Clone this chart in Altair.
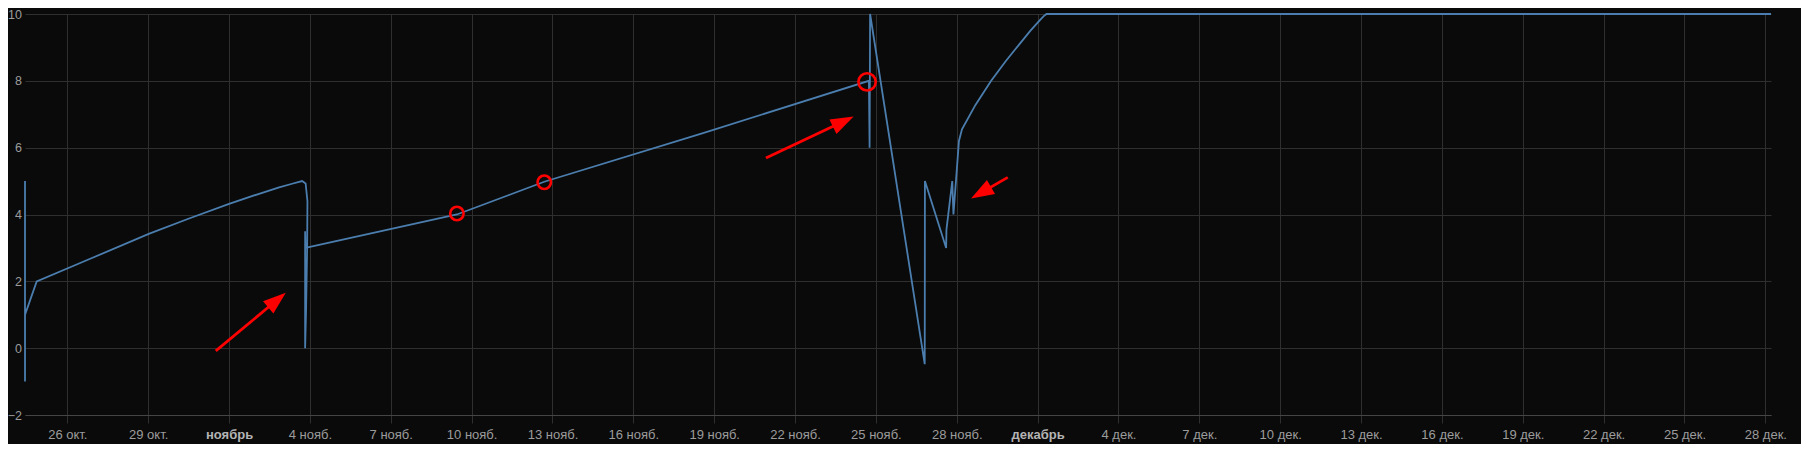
import altair as alt
import pandas as pd

# ---- main series (time, value), in drawing order ----
times = [
    "2023-10-24T10:19", "2023-10-24T10:20", "2023-10-24T10:21", "2023-10-24T20:44",
    "2023-10-26T19:20", "2023-10-29T00:31", "2023-10-30T12:25", "2023-11-01T00:03",
    "2023-11-02T02:47", "2023-11-02T20:35", "2023-11-03T08:11", "2023-11-03T17:05",
    "2023-11-03T20:12", "2023-11-03T21:49", "2023-11-03T21:33", "2023-11-03T20:38",
    "2023-11-03T19:45", "2023-11-03T19:46", "2023-11-03T20:01",
    "2023-11-09T10:54", "2023-11-12T16:41", "2023-11-18T15:29", "2023-11-24T17:46",
    "2023-11-24T18:23", "2023-11-24T18:50", "2023-11-26T19:28", "2023-11-26T19:39",
    "2023-11-27T14:33", "2023-11-27T14:49", "2023-11-27T19:59", "2023-11-27T21:03",
    "2023-11-28T01:57", "2023-11-28T04:38", "2023-11-28T16:39", "2023-11-29T06:37",
    "2023-11-29T19:22", "2023-11-30T07:51", "2023-11-30T17:38", "2023-12-01T01:39",
    "2023-12-01T05:12", "2023-12-01T07:54", "2023-12-28T05:02",
]
values = [
    5, -1, 1, 2,
    2.66, 3.42, 3.88, 4.32,
    4.62, 4.81, 4.92, 5.0,
    4.93, 4.4, 3.0, 1.2,
    0, 3.5, 3.0,
    4.0, 4.98, 6.45, 8.0,
    6.0, 10, -0.48, 5.0,
    3.0, 3.55, 5.0, 4.0,
    6.2, 6.55, 7.28, 8.0,
    8.58, 9.1, 9.5, 9.8,
    9.93, 10, 10,
]

# ---- axis ticks ----
tick_dates = [
    "2023-10-26", "2023-10-29", "2023-11-01", "2023-11-04", "2023-11-07", "2023-11-10",
    "2023-11-13", "2023-11-16", "2023-11-19", "2023-11-22", "2023-11-25", "2023-11-28",
    "2023-12-01", "2023-12-04", "2023-12-07", "2023-12-10", "2023-12-13", "2023-12-16",
    "2023-12-19", "2023-12-22", "2023-12-25", "2023-12-28",
]
tick_labels = [
    "26 окт.", "29 окт.", "ноябрь", "4 нояб.", "7 нояб.", "10 нояб.",
    "13 нояб.", "16 нояб.", "19 нояб.", "22 нояб.", "25 нояб.", "28 нояб.",
    "декабрь", "4 дек.", "7 дек.", "10 дек.", "13 дек.", "16 дек.",
    "19 дек.", "22 дек.", "25 дек.", "28 дек.",
]
y_ticks = [-2, 0, 2, 4, 6, 8, 10]

# ---- annotations (red circles and arrows) ----
circle_times = ["2023-11-09T10:54", "2023-11-12T16:41", "2023-11-24T16:09"]
circle_values = [4.03, 4.965, 7.97]
circle_sizes = [180, 180, 300]

arrow_tail_times = ["2023-10-31T12:13", "2023-11-20T22:05", "2023-11-29T21:26"]
arrow_tail_values = [-0.08, 5.69, 5.11]
arrow_head_times = ["2023-11-02T18:43", "2023-11-23T18:58", "2023-11-28T21:36"]
arrow_head_values = [1.44, 6.78, 4.65]
arrow_angles = [50, 64, 240]

series = pd.DataFrame({"t": times, "v": values, "i": list(range(len(times)))})
circles = pd.DataFrame({"t": circle_times, "v": circle_values, "s": circle_sizes})
arrows = pd.DataFrame({
    "t": arrow_tail_times, "v": arrow_tail_values,
    "t2": arrow_head_times, "v2": arrow_head_values, "a": arrow_angles,
})

def to_dt(s):
    y, m, d = (int(p) for p in s.split("-"))
    return alt.DateTime(year=y, month=m, date=d)

labels_js = "[" + ",".join("'" + l + "'" for l in tick_labels) + "]"
dates_js = "[" + ",".join("'" + d + "'" for d in tick_dates) + "]"
label_expr = f"{labels_js}[indexof({dates_js}, timeFormat(datum.value, '%Y-%m-%d'))]"

GRID = "#2f2f2f"
x_axis = alt.Axis(
    values=[to_dt(d) for d in tick_dates],
    labelExpr=label_expr,
    title=None,
    grid=True,
    gridColor=GRID,
    tickColor=GRID,
    tickSize=8,
    domainColor="#454545",
    labelPadding=5,
    labelAngle=0,
    labelFlush=False,
    labelOverlap=False,
    labelFont="Liberation Sans",
    labelFontSize=13,
    labelColor={"condition": {"test": "date(datum.value) == 1", "value": "#b4b4b4"}, "value": "#9c9c9c"},
    labelFontWeight={"condition": {"test": "date(datum.value) == 1", "value": "bold"}, "value": "normal"},
)
y_axis = alt.Axis(
    values=y_ticks,
    title=None,
    grid=True,
    gridColor=GRID,
    ticks=False,
    domain=False,
    labelPadding=3.5,
    labelFont="Liberation Sans",
    labelFontSize=12.5,
    labelColor="#9c9c9c",
)

x_scale = alt.Scale(nice=False)
y_scale = alt.Scale(domain=[-2, 10], nice=False, zero=False)

line = alt.Chart(series).mark_line(color="#4b7eae", strokeWidth=1.8, interpolate="linear").encode(
    x=alt.X("t:T", scale=x_scale, axis=x_axis),
    y=alt.Y("v:Q", scale=y_scale, axis=y_axis),
    order="i:Q",
)

circ = alt.Chart(circles).mark_point(shape="circle", filled=False, color="#ff0000", strokeWidth=2.6, opacity=1).encode(
    x="t:T", y="v:Q", size=alt.Size("s:Q", scale=None, legend=None),
)

shafts = alt.Chart(arrows).mark_rule(color="#ff0000", strokeWidth=2.8).encode(
    x="t:T", y="v:Q", x2="t2:T", y2="v2:Q",
)

heads = alt.Chart(arrows).mark_point(
    shape="M0,-1L0.7,1L-0.7,1Z", filled=True, color="#ff0000", size=529, opacity=1
).encode(
    x="t2:T", y="v2:Q", angle=alt.Angle("a:Q", scale=None),
)

chart = alt.layer(line, circ, shafts, heads).properties(
    width=1746,
    height=401,
    autosize=alt.AutoSizeParams(type="none"),
    padding={"left": 17, "top": 6, "right": 30, "bottom": 29},
    background="#0a0a0a",
).configure_view(stroke=None)

chart.save("out.html", embed_options={"renderer": "svg", "actions": False})
